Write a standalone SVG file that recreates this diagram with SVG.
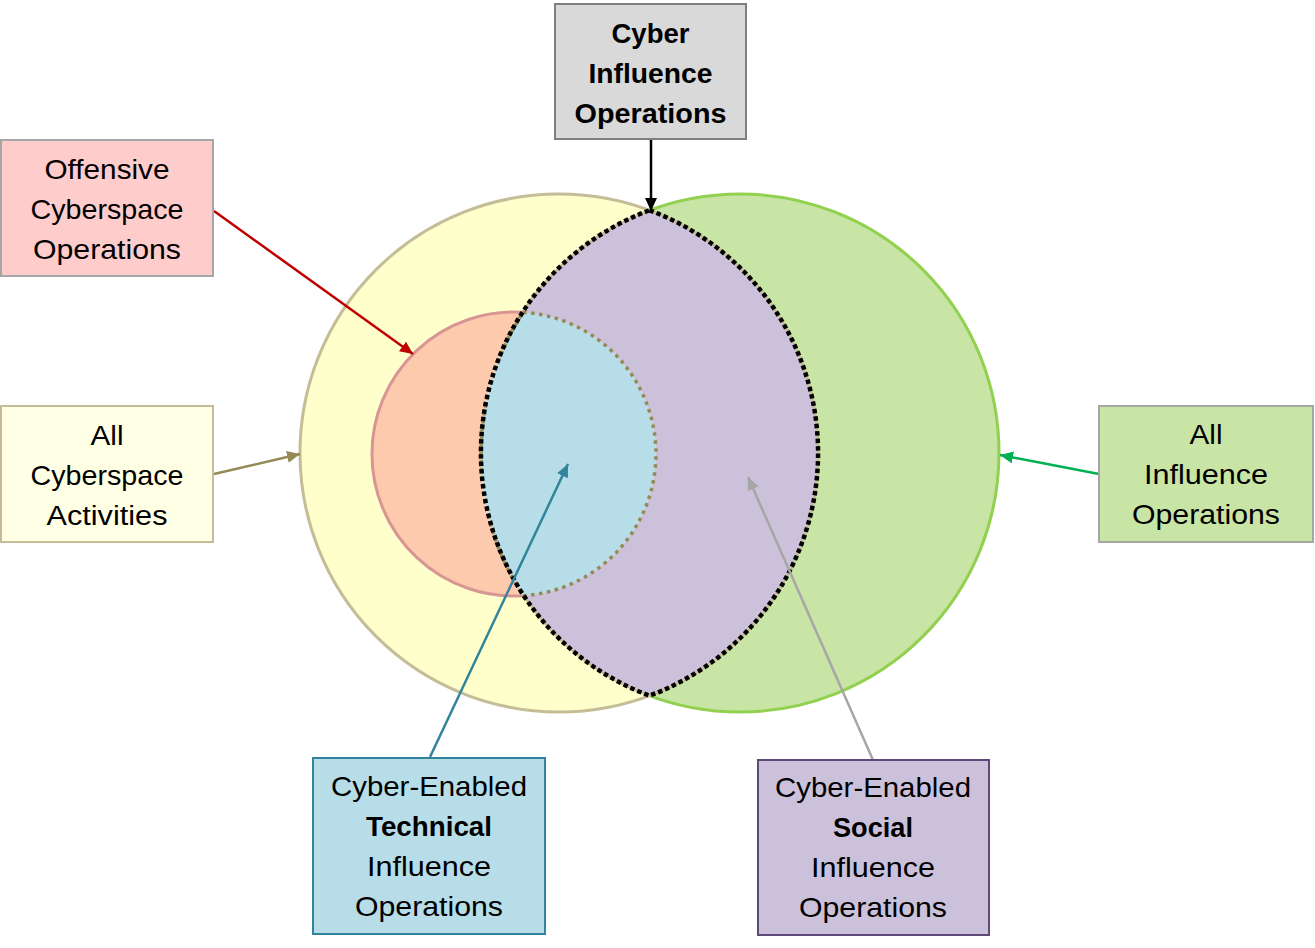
<svg xmlns="http://www.w3.org/2000/svg" width="1315" height="948" viewBox="0 0 1315 948">
<style>
.t{font-family:"Liberation Sans",Arial,sans-serif;font-size:27.5px;fill:#000;text-anchor:middle}
.b{font-weight:bold}
.box{stroke-width:2}
.conn{fill:none;stroke-width:2.5}
</style>
<defs>
<marker id="aK" markerUnits="userSpaceOnUse" markerWidth="14" markerHeight="12" refX="13" refY="6" orient="auto"><path d="M0,0 L13,6 L0,12 Z" fill="#000"/></marker>
<marker id="aR" markerUnits="userSpaceOnUse" markerWidth="14" markerHeight="12" refX="13" refY="6" orient="auto"><path d="M0,0 L13,6 L0,12 Z" fill="#C00000"/></marker>
<marker id="aO" markerUnits="userSpaceOnUse" markerWidth="14" markerHeight="12" refX="13" refY="6" orient="auto"><path d="M0,0 L13,6 L0,12 Z" fill="#948A54"/></marker>
<marker id="aG" markerUnits="userSpaceOnUse" markerWidth="14" markerHeight="12" refX="13" refY="6" orient="auto"><path d="M0,0 L13,6 L0,12 Z" fill="#00B050"/></marker>
<marker id="aT" markerUnits="userSpaceOnUse" markerWidth="14" markerHeight="12" refX="13" refY="6" orient="auto"><path d="M0,0 L13,6 L0,12 Z" fill="#31849B"/></marker>
<marker id="aA" markerUnits="userSpaceOnUse" markerWidth="14" markerHeight="12" refX="13" refY="6" orient="auto"><path d="M0,0 L13,6 L0,12 Z" fill="#A6A6A6"/></marker>
</defs>

<g id="venn">
<circle id="influence-circle" cx="740" cy="453" r="259" fill="#C8E5A6" stroke="#92D050" stroke-width="3"/>
<circle id="cyber-circle" cx="559" cy="453" r="259" fill="#FFFFCC" stroke="#C4BD97" stroke-width="3"/>
<path id="lens" d="M649.5,210.3 A259,259 0 0 1 649.5,695.7 A259,259 0 0 1 649.5,210.3 Z" fill="#CCC1DA" stroke="#C4BD97" stroke-width="2.5"/>
<circle id="offensive-circle" cx="514" cy="454" r="142" fill="#FECAAE"/>
<path d="M523.2,312.3 A142,142 0 1 0 523.2,595.7" fill="none" stroke="#D99594" stroke-width="3"/>
<path id="technical-region" d="M523.2,312.3 A142,142 0 0 1 523.2,595.7 A259,259 0 0 1 523.2,312.3 Z" fill="#B7DDE8" stroke="#948A54" stroke-width="3.5" stroke-dasharray="3.5 4.5"/>
<path d="M649.5,210.3 A259,259 0 0 1 649.5,695.7 A259,259 0 0 1 649.5,210.3 Z" fill="none" stroke="#000" stroke-width="4.5" stroke-dasharray="4.5 3"/>
</g>

<g id="connectors">
<line class="conn" x1="651" y1="140" x2="651" y2="211" stroke="#000" marker-end="url(#aK)"/>
<line class="conn" x1="214" y1="211" x2="413" y2="354" stroke="#C00000" marker-end="url(#aR)"/>
<line class="conn" x1="214" y1="474" x2="300" y2="454" stroke="#948A54" marker-end="url(#aO)"/>
<line class="conn" x1="1099" y1="474" x2="1000" y2="455" stroke="#00B050" marker-end="url(#aG)"/>
<line class="conn" x1="430" y1="757" x2="568" y2="464" stroke="#31849B" marker-end="url(#aT)"/>
<line class="conn" x1="873" y1="760" x2="748" y2="477" stroke="#A6A6A6" marker-end="url(#aA)"/>
</g>

<g id="node-cio">
<rect class="box" x="555" y="4" width="191" height="135" fill="#D9D9D9" stroke="#7F7F7F"/>
<text class="t b" x="650.5" y="43" textLength="78" lengthAdjust="spacingAndGlyphs">Cyber</text>
<text class="t b" x="650.5" y="83" textLength="124" lengthAdjust="spacingAndGlyphs">Influence</text>
<text class="t b" x="650.5" y="123" textLength="152" lengthAdjust="spacingAndGlyphs">Operations</text>
</g>

<g id="node-oco">
<rect class="box" x="1" y="140" width="212" height="136" fill="#FFCCCC" stroke="#A6A6A6"/>
<text class="t" x="107" y="179" textLength="125" lengthAdjust="spacingAndGlyphs">Offensive</text>
<text class="t" x="107" y="219" textLength="153" lengthAdjust="spacingAndGlyphs">Cyberspace</text>
<text class="t" x="107" y="259" textLength="148" lengthAdjust="spacingAndGlyphs">Operations</text>
</g>

<g id="node-aca">
<rect class="box" x="1" y="406" width="212" height="136" fill="#FFFFE5" stroke="#C4BD97"/>
<text class="t" x="107" y="445" textLength="33" lengthAdjust="spacingAndGlyphs">All</text>
<text class="t" x="107" y="485" textLength="153" lengthAdjust="spacingAndGlyphs">Cyberspace</text>
<text class="t" x="107" y="525" textLength="121" lengthAdjust="spacingAndGlyphs">Activities</text>
</g>

<g id="node-aio">
<rect class="box" x="1099" y="406" width="214" height="136" fill="#C8E5A6" stroke="#A6A6A6"/>
<text class="t" x="1206" y="444" textLength="33" lengthAdjust="spacingAndGlyphs">All</text>
<text class="t" x="1206" y="484" textLength="124" lengthAdjust="spacingAndGlyphs">Influence</text>
<text class="t" x="1206" y="524" textLength="148" lengthAdjust="spacingAndGlyphs">Operations</text>
</g>

<g id="node-technical">
<rect class="box" x="313" y="758" width="232" height="176" fill="#B7DDE8" stroke="#31849B"/>
<text class="t" x="429" y="796" textLength="196" lengthAdjust="spacingAndGlyphs">Cyber-Enabled</text>
<text class="t b" x="429" y="836" textLength="126" lengthAdjust="spacingAndGlyphs">Technical</text>
<text class="t" x="429" y="876" textLength="124" lengthAdjust="spacingAndGlyphs">Influence</text>
<text class="t" x="429" y="916" textLength="148" lengthAdjust="spacingAndGlyphs">Operations</text>
</g>

<g id="node-social">
<rect class="box" x="758" y="760" width="231" height="175" fill="#CCC1DA" stroke="#5F497A"/>
<text class="t" x="873" y="797" textLength="196" lengthAdjust="spacingAndGlyphs">Cyber-Enabled</text>
<text class="t b" x="873" y="837" textLength="80" lengthAdjust="spacingAndGlyphs">Social</text>
<text class="t" x="873" y="877" textLength="124" lengthAdjust="spacingAndGlyphs">Influence</text>
<text class="t" x="873" y="917" textLength="148" lengthAdjust="spacingAndGlyphs">Operations</text>
</g>
</svg>
